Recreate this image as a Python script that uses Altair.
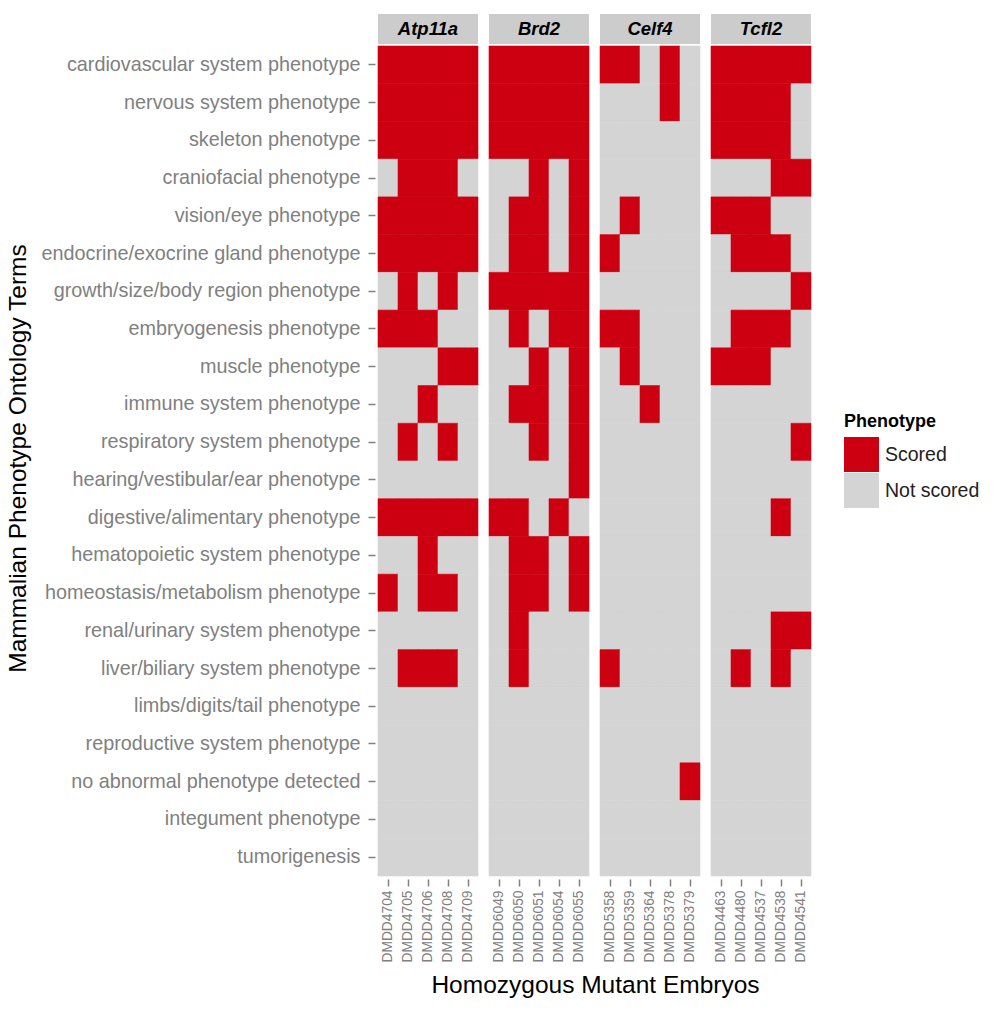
import altair as alt
import pandas as pd

terms = [
    "cardiovascular system phenotype",
    "nervous system phenotype",
    "skeleton phenotype",
    "craniofacial phenotype",
    "vision/eye phenotype",
    "endocrine/exocrine gland phenotype",
    "growth/size/body region phenotype",
    "embryogenesis phenotype",
    "muscle phenotype",
    "immune system phenotype",
    "respiratory system phenotype",
    "hearing/vestibular/ear phenotype",
    "digestive/alimentary phenotype",
    "hematopoietic system phenotype",
    "homeostasis/metabolism phenotype",
    "renal/urinary system phenotype",
    "liver/biliary system phenotype",
    "limbs/digits/tail phenotype",
    "reproductive system phenotype",
    "no abnormal phenotype detected",
    "integument phenotype",
    "tumorigenesis",
]

genes = ["Atp11a", "Brd2", "Celf4", "Tcfl2"]

atp11a_embryos = ["DMDD4704", "DMDD4705", "DMDD4706", "DMDD4708", "DMDD4709"]
brd2_embryos = ["DMDD6049", "DMDD6050", "DMDD6051", "DMDD6054", "DMDD6055"]
celf4_embryos = ["DMDD5358", "DMDD5359", "DMDD5364", "DMDD5378", "DMDD5379"]
tcfl2_embryos = ["DMDD4463", "DMDD4480", "DMDD4537", "DMDD4538", "DMDD4541"]

# 1 = scored, 0 = not scored; one string per term (row), one digit per embryo
atp11a_scored = ["11111", "11111", "11111", "01110", "11111", "11111", "01010",
                 "11100", "00011", "00100", "01010", "00000", "11111", "00100",
                 "10110", "00000", "01110", "00000", "00000", "00000", "00000", "00000"]
brd2_scored = ["11111", "11111", "11111", "00101", "01101", "01101", "11111",
               "01011", "00101", "01101", "00101", "00001", "11010", "01101",
               "01101", "01000", "01000", "00000", "00000", "00000", "00000", "00000"]
celf4_scored = ["11010", "00010", "00000", "00000", "01000", "10000", "00000",
                "11000", "01000", "00100", "00000", "00000", "00000", "00000",
                "00000", "00000", "10000", "00000", "00000", "00001", "00000", "00000"]
tcfl2_scored = ["11111", "11110", "11110", "00011", "11100", "01110", "00001",
                "01110", "11100", "00000", "00001", "00000", "00010", "00000",
                "00000", "00011", "01010", "00000", "00000", "00000", "00000", "00000"]

status_labels = ["Scored", "Not scored"]

embryo_lists = [atp11a_embryos, brd2_embryos, celf4_embryos, tcfl2_embryos]
scored_lists = [atp11a_scored, brd2_scored, celf4_scored, tcfl2_scored]

RED = "#CC0010"
GREY = "#D4D4D4"
STRIP = "#CCCCCC"
LABEL_GREY = "#808080"
PANEL_W = 100
PANEL_H = 830

status_scale = alt.Scale(domain=status_labels, range=[RED, GREY])

color = alt.Color(
    "status:N",
    scale=status_scale,
    legend=alt.Legend(
        title="Phenotype",
        orient="none",
        legendX=466,
        legendY=367,
        symbolType="square",
        symbolSize=1225,
        symbolStrokeWidth=0,
        symbolOpacity=1,
        rowPadding=1,
        labelOffset=6,
        labelFontSize=19.5,
        labelColor="#222222",
        titleFontSize=18,
        titleFontWeight="bold",
        titleColor="#000000",
        titlePadding=6,
    ),
)

panels = []
for i, (gene, embs, scored) in enumerate(zip(genes, embryo_lists, scored_lists)):
    rows = []
    for t, code in zip(terms, scored):
        for e, ch in zip(embs, code):
            rows.append({"gene": gene, "embryo": e, "term": t,
                         "status": status_labels[0] if ch == "1" else status_labels[1]})
    df = pd.DataFrame(rows)

    x_axis_kwargs = dict(
        labelAngle=270,
        labelFontSize=13.8,
        labelColor=LABEL_GREY,
        tickColor=LABEL_GREY,
        tickSize=7,
        tickWidth=1.5,
        labelPadding=4,
        offset=3,
        domain=False,
        grid=False,
    )
    if i == 1:
        x_axis = alt.Axis(
            title="Homozygous Mutant Embryos",
            titleFontSize=24.5,
            titleFontWeight="normal",
            titleColor="#000000",
            titleX=106,
            titleY=106,
            titleAlign="center",
            titleBaseline="middle",
            **x_axis_kwargs,
        )
    else:
        x_axis = alt.Axis(title=None, **x_axis_kwargs)

    if i == 0:
        y_enc = alt.Y(
            "term:N",
            sort=terms,
            scale=alt.Scale(paddingInner=0, paddingOuter=0),
            axis=alt.Axis(
                title="Mammalian Phenotype Ontology Terms",
                titleFontSize=24.5,
                titleFontWeight="normal",
                titleColor="#000000",
                titleX=-357,
                titleY=412,
                titleAngle=270,
                titleAlign="center",
                titleBaseline="middle",
                labelFontSize=19.8,
                labelColor=LABEL_GREY,
                labelLimit=500,
                tickColor=LABEL_GREY,
                tickSize=7,
                tickWidth=1.5,
                labelPadding=8,
                offset=3,
                domain=False,
                grid=False,
            ),
        )
    else:
        y_enc = alt.Y("term:N", sort=terms,
                      scale=alt.Scale(paddingInner=0, paddingOuter=0), axis=None)

    heat = alt.Chart(df).mark_rect(strokeWidth=0.6).encode(
        x=alt.X("embryo:N", sort=embs,
                scale=alt.Scale(paddingInner=0, paddingOuter=0), axis=x_axis),
        y=y_enc,
        color=color,
        stroke=alt.Stroke("status:N", scale=status_scale, legend=None),
    )

    gdf = pd.DataFrame({"gene": [gene]})
    strip = alt.Chart(gdf).mark_rect(color=STRIP).encode(
        x=alt.value(0), x2=alt.value(PANEL_W), y=alt.value(-32), y2=alt.value(-2)
    )
    strip_text = alt.Chart(gdf).mark_text(
        fontSize=18.5, fontStyle="italic", fontWeight="bold", color="#000000",
        baseline="middle", align="center",
    ).encode(x=alt.value(PANEL_W / 2), y=alt.value(-17), text="gene:N")

    panels.append(alt.layer(heat, strip, strip_text).properties(width=PANEL_W, height=PANEL_H))

chart = (
    alt.hconcat(*panels, spacing=11, bounds="flush")
    .resolve_scale(color="shared", stroke="shared")
    .resolve_legend(color="shared")
    .properties(padding={"left": 4, "top": 13, "right": 5, "bottom": 5})
    .configure(font="Liberation Sans")
    .configure_view(stroke="transparent")
)

chart.save("out.html", embed_options={"renderer": "svg", "actions": False})
